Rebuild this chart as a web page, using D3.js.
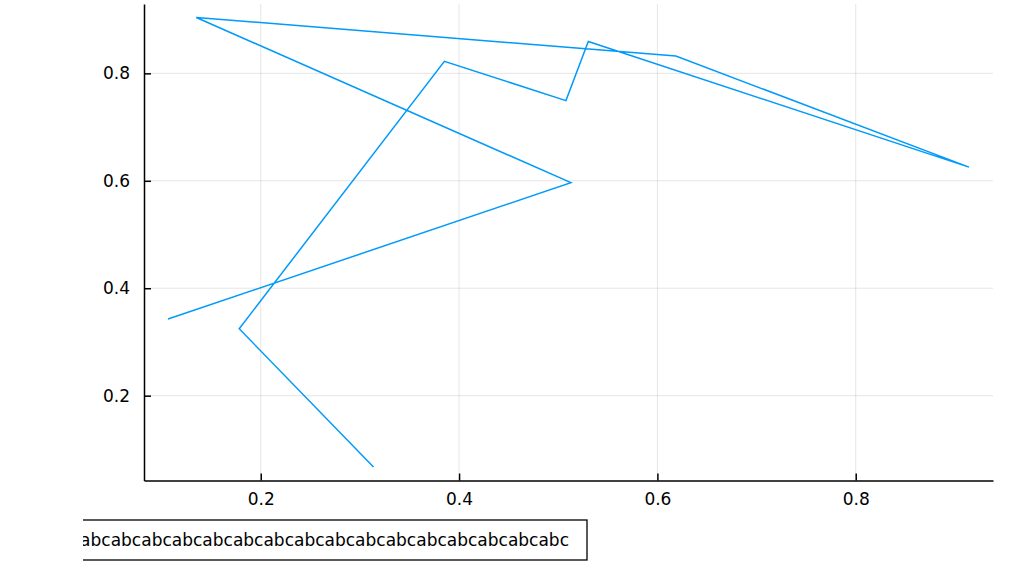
<!DOCTYPE html>
<html>
<head>
<meta charset="utf-8">
<script src="https://cdn.jsdelivr.net/npm/d3@7"></script>
<style>
  html, body { margin: 0; padding: 0; background: #fff; }
  svg { display: block; font-family: "DejaVu Sans", sans-serif; }
</style>
</head>
<body>
<svg id="chart" width="1024" height="579"></svg>
<script>
// ---- data ----
const xValues = [0.3137, 0.1783, 0.3852, 0.5078, 0.5303, 0.9142, 0.6186, 0.1350, 0.5128, 0.1065];
const yValues = [0.0672, 0.3246, 0.8223, 0.7493, 0.8594, 0.6254, 0.8323, 0.9040, 0.5965, 0.3426];
const xTicks = [0.2, 0.4, 0.6, 0.8];
const yTicks = [0.2, 0.4, 0.6, 0.8];
const seriesLabel = "abc".repeat(40);

// ---- layout ----
const W = 1024, H = 579;
const plot = { left: 144, right: 993, top: 4, bottom: 480.5 };
const lineColor = "#009AFA";
const fontSize = "17px";

function padded(vals) {
  const [a, b] = d3.extent(vals);
  const p = (b - a) * 0.03;
  return [a - p, b + p];
}

const x = d3.scaleLinear().domain(padded(xValues)).range([plot.left, plot.right]);
const y = d3.scaleLinear().domain(padded(yValues)).range([plot.bottom, plot.top]);

const svg = d3.select("#chart");

// grid
const grid = svg.append("g").attr("stroke", "#000").attr("stroke-opacity", 0.1).attr("stroke-width", 1);
grid.selectAll("line.gx").data(xTicks).join("line")
  .attr("x1", d => x(d)).attr("x2", d => x(d))
  .attr("y1", plot.top).attr("y2", plot.bottom);
grid.selectAll("line.gy").data(yTicks).join("line")
  .attr("y1", d => y(d)).attr("y2", d => y(d))
  .attr("x1", plot.left).attr("x2", plot.right);

// axes
const xAxis = d3.axisBottom(x).tickValues(xTicks).tickSizeInner(-7).tickSizeOuter(0)
  .tickPadding(12).tickFormat(d3.format(".1f"));
const yAxis = d3.axisLeft(y).tickValues(yTicks).tickSizeInner(-7).tickSizeOuter(0)
  .tickPadding(14).tickFormat(d3.format(".1f"));

const gx = svg.append("g").attr("transform", `translate(0,${plot.bottom})`).call(xAxis);
const gy = svg.append("g").attr("transform", `translate(${plot.left},0)`).call(yAxis);
[gx, gy].forEach(g => {
  g.select(".domain").attr("stroke", "#000").attr("stroke-width", 1.5);
  g.selectAll(".tick line").attr("stroke", "#000").attr("stroke-width", 1.5);
  g.selectAll(".tick text").attr("fill", "#000").style("font-size", fontSize)
    .style("font-family", "'DejaVu Sans', sans-serif");
});
gx.selectAll(".tick text").attr("dy", "0.71em");

// line
const pts = xValues.map((v, i) => [v, yValues[i]]);
svg.append("path")
  .datum(pts)
  .attr("fill", "none")
  .attr("stroke", lineColor)
  .attr("stroke-width", 1.5)
  .attr("stroke-linejoin", "miter")
  .attr("d", d3.line().x(d => x(d[0])).y(d => y(d[1])));

// legend (overflowing on the left, clipped like the reference)
const legend = { clipLeft: 83, right: 587, top: 520, bottom: 560, textRight: 569 };
svg.append("clipPath").attr("id", "legclip")
  .append("rect").attr("x", legend.clipLeft).attr("y", 0)
  .attr("width", W - legend.clipLeft).attr("height", H);
const lg = svg.append("g").attr("clip-path", "url(#legclip)");
lg.append("rect")
  .attr("x", -2000).attr("y", legend.top)
  .attr("width", legend.right + 2000).attr("height", legend.bottom - legend.top)
  .attr("fill", "#fff").attr("stroke", "#000").attr("stroke-width", 1.3);
lg.append("text")
  .attr("x", legend.textRight).attr("y", (legend.top + legend.bottom) / 2)
  .attr("dy", "0.35em").attr("text-anchor", "end")
  .style("font-size", fontSize).attr("fill", "#000")
  .text(seriesLabel);
</script>
</body>
</html>
